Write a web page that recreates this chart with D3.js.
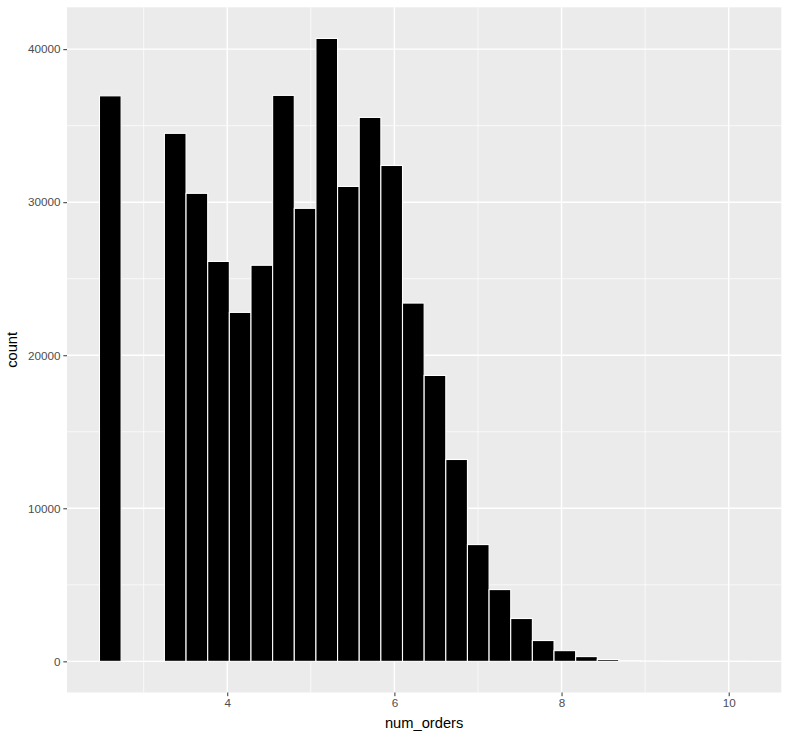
<!DOCTYPE html>
<style>
body { margin: 0; }
svg { font-family: "Liberation Sans", Arial, sans-serif; }
.axis .domain { display: none; }
.axis line { stroke: #333333; }
.axis text { fill: #4d4d4d; font-size: 11.7px; }
</style>
<svg width="789" height="738" id="hist"></svg>
<script src="https://d3js.org/d3.v7.min.js"></script>
<script>
// histogram bins (lower edge of each bin) and counts
var binLow = [2.471, 2.730, 2.989, 3.248, 3.507, 3.766, 4.025, 4.284, 4.543, 4.802,
              5.061, 5.320, 5.579, 5.838, 6.097, 6.356, 6.615, 6.874, 7.133, 7.392,
              7.651, 7.910, 8.169, 8.428, 8.687, 8.946, 9.205, 9.464, 9.723, 9.982];
var binWidth = 0.259;
var counts = [36950, 0, 0, 34500, 30580, 26130, 22800, 25880, 36980, 29600,
              40700, 31030, 35540, 32400, 23410, 18680, 13190, 7630, 4690, 2800,
              1360, 700, 310, 120, 50, 15, 5, 2, 1, 1];

var xMajor = [4, 6, 8, 10],
    xMinor = [3, 5, 7, 9],
    yMajor = [0, 10000, 20000, 30000, 40000],
    yMinor = [5000, 15000, 25000, 35000];

var svg = d3.select("#hist"),
    margin = {top: 7.3, right: 7.7, bottom: 45.5, left: 67},
    width = +svg.attr("width") - margin.left - margin.right,
    height = +svg.attr("height") - margin.top - margin.bottom,
    g = svg.append("g").attr("transform", "translate(" + margin.left + "," + margin.top + ")");

var bins = binLow.map(function(d, i) { return {x0: d, x1: d + binWidth, n: counts[i]}; });

// ggplot style 5% expansion on both scales
var xlo = d3.min(bins, function(d) { return d.x0; }),
    xhi = d3.max(bins, function(d) { return d.x1; }),
    xpad = (xhi - xlo) * 0.05,
    ymax = d3.max(counts),
    ypad = ymax * 0.05;

var x = d3.scaleLinear().domain([xlo - xpad, xhi + xpad]).range([0, width]);
var y = d3.scaleLinear().domain([-ypad, ymax + ypad]).range([height, 0]);

g.append("rect")
    .attr("width", width)
    .attr("height", height)
    .attr("fill", "#ebebeb");

// grid
g.append("g").selectAll("line").data(yMinor)
  .enter().append("line")
    .attr("x1", 0).attr("x2", width)
    .attr("y1", function(d) { return y(d); })
    .attr("y2", function(d) { return y(d); })
    .attr("stroke", "#fff").attr("stroke-width", 0.7);

g.append("g").selectAll("line").data(xMinor)
  .enter().append("line")
    .attr("y1", 0).attr("y2", height)
    .attr("x1", function(d) { return x(d); })
    .attr("x2", function(d) { return x(d); })
    .attr("stroke", "#fff").attr("stroke-width", 0.7);

g.append("g").selectAll("line").data(yMajor)
  .enter().append("line")
    .attr("x1", 0).attr("x2", width)
    .attr("y1", function(d) { return y(d); })
    .attr("y2", function(d) { return y(d); })
    .attr("stroke", "#fff").attr("stroke-width", 1.4);

g.append("g").selectAll("line").data(xMajor)
  .enter().append("line")
    .attr("y1", 0).attr("y2", height)
    .attr("x1", function(d) { return x(d); })
    .attr("x2", function(d) { return x(d); })
    .attr("stroke", "#fff").attr("stroke-width", 1.4);

// bars
g.append("g").selectAll("rect").data(bins)
  .enter().append("rect")
    .attr("x", function(d) { return x(d.x0); })
    .attr("y", function(d) { return y(d.n); })
    .attr("width", function(d) { return x(d.x1) - x(d.x0); })
    .attr("height", function(d) { return y(0) - y(d.n); })
    .attr("fill", "#000")
    .attr("stroke", "#fff")
    .attr("stroke-width", 1.1);

// axes
g.append("g")
    .attr("class", "axis")
    .attr("transform", "translate(0," + height + ")")
    .call(d3.axisBottom(x).tickValues(xMajor).tickSize(3.7).tickPadding(2.9).tickFormat(d3.format("d")));

g.append("g")
    .attr("class", "axis")
    .call(d3.axisLeft(y).tickValues(yMajor).tickSize(3.7).tickPadding(2.9).tickFormat(d3.format("d")));

svg.selectAll(".axis text").attr("font-family", null).attr("font-size", null);

// axis titles
svg.append("text")
    .attr("x", margin.left + width / 2)
    .attr("y", 727.5)
    .attr("text-anchor", "middle")
    .attr("font-size", 14.7)
    .attr("fill", "#000")
    .text("num_orders");

svg.append("text")
    .attr("transform", "translate(17," + (margin.top + height / 2) + ") rotate(-90)")
    .attr("text-anchor", "middle")
    .attr("font-size", 14.7)
    .attr("fill", "#000")
    .text("count");
</script>
